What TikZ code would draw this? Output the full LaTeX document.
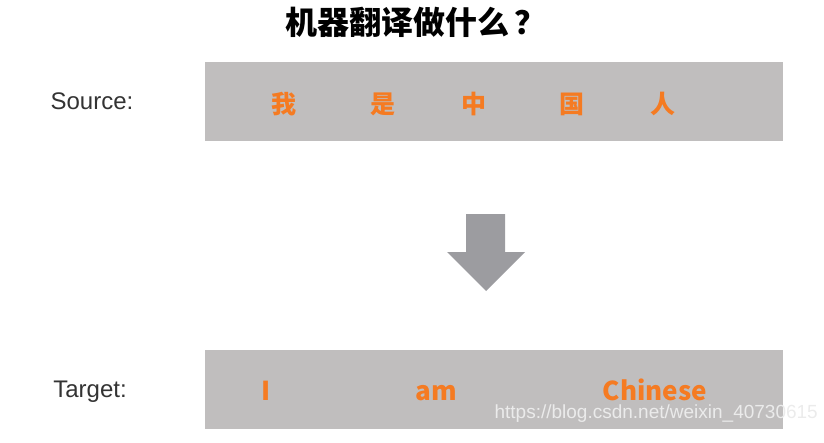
\documentclass[tikz,border=0pt]{standalone}
\usepackage{fontspec}
\setmainfont{Liberation Sans}
\newfontfamily\cjk{Noto Sans CJK SC}
\usetikzlibrary{positioning}
\definecolor{boxgray}{HTML}{C0BEBE}
\definecolor{wordorange}{HTML}{F57B22}
\definecolor{arrowgray}{HTML}{9C9CA0}
\begin{document}
\begin{tikzpicture}[x=1pt,y=-1pt,
	box/.style={fill=boxgray, minimum width=578pt, minimum height=79pt, inner sep=0pt},
	word/.style={text=wordorange, inner sep=0pt, anchor=base, font=\cjk\bfseries\fontsize{25}{25}\selectfont},
	lbl/.style={text=black!80, inner sep=0pt, font=\fontsize{24}{24}\selectfont}]
	\useasboundingbox (0,0) rectangle (824,442);
	\node[inner sep=0pt, font=\cjk\bfseries\fontsize{32}{32}\selectfont] (title) at (416,22) {机器翻译做什么\,？};
	\node[box] (src) at (494,101.5) {};
	\node[box] (tgt) at (493.5,389.5) {};
	\node[lbl] (srclbl) at (92,101) {Source:};
	\node[lbl] (tgtlbl) at (90,392) {Target:};
	% source words
	\foreach \name/\x/\w in {s1/284/我,s2/383/是,s3/474/中,s4/572/国,s5/663/人}
		\node[word] (\name) at (\x,113) {\w};
	% target words
	\foreach \name/\x/\w in {t1/266/I,t2/436/am,t3/655/Chinese}
		\node[word, font=\cjk\bfseries\fontsize{26}{26}\selectfont] (\name) at (\x,400) {\w};
	\fill[arrowgray] (466,214) -- (505,214) -- (505,252) -- (525,252) -- (486,291) -- (447,252) -- (466,252) -- cycle;
	\node[anchor=east, inner sep=0pt, text=white!92!black, font=\fontsize{19}{19}\selectfont] (mark) at (818,414) {https://blog.csdn.net/weixin\_40730615};
\end{tikzpicture}
\end{document}
